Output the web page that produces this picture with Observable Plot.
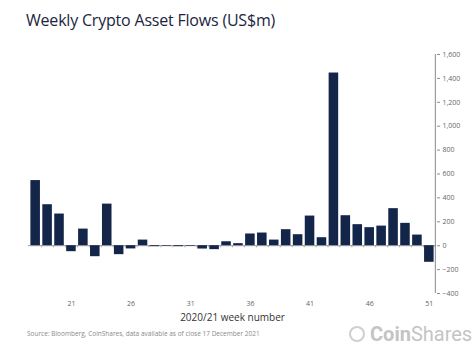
<!DOCTYPE html>
<html>
<head>
<meta charset="utf-8">
<script src="https://cdn.jsdelivr.net/npm/d3@7"></script>
<script src="https://cdn.jsdelivr.net/npm/@observablehq/plot@0.6"></script>
<style>
  html, body { margin: 0; padding: 0; background: #ffffff; }
  #wrap { position: relative; width: 474px; height: 354px; overflow: hidden; font-family: "Open Sans", sans-serif; }
  #title { position: absolute; left: 26px; top: 9px; font-size: 16px; color: #1b2540; white-space: nowrap; letter-spacing: -0.2px; }
  #chart { position: absolute; left: 0; top: 40px; }
  #source { position: absolute; left: 27px; top: 329px; font-size: 6.5px; color: #8a8a8a; white-space: nowrap; }
  #logo { position: absolute; left: 349px; top: 322px; font-family: Roboto, sans-serif; font-size: 20px; line-height: 24px; color: #c4c4c4; white-space: nowrap; }
  #logo .icon { display: inline-block; width: 16px; height: 16px; border: 2px solid #cfcfcf; border-radius: 50%; box-sizing: border-box; margin-right: 5px; vertical-align: -1px; }
  #logo b { font-weight: 700; }
</style>
</head>
<body>
<div id="wrap">
  <div id="title">Weekly Crypto Asset Flows (US$m)</div>
  <div id="chart"></div>
  <div id="source">Source: Bloomberg, CoinShares, data available as of close 17 December 2021</div>
  <div id="logo"><span class="icon"></span><b>Coin</b>Shares</div>
</div>
<script>
const weeks = [18, 19, 20, 21, 22, 23, 24, 25, 26, 27, 28, 29, 30, 31, 32, 33, 34,
               35, 36, 37, 38, 39, 40, 41, 42, 43, 44, 45, 46, 47, 48, 49, 50, 51];
const flows = [545, 343, 265, -50, 139, -92, 348, -75, -27, 47, -8, -5, -8, -5, -28, -33, 33,
               17, 98, 106, 47, 134, 92, 248, 67, 1445, 251, 176, 151, 164, 310, 187, 89, -139];
const xTickLabels = [21, 26, 31, 36, 41, 46, 51];
const yTicks = [-400, -200, 0, 200, 400, 600, 800, 1000, 1200, 1400, 1600];

const data = weeks.map((w, i) => ({week: w, flow: flows[i]}));

const chart = Plot.plot({
  width: 474,
  height: 290,
  marginTop: 14,
  marginBottom: 37,
  marginLeft: 28,
  marginRight: 38,
  style: {fontFamily: "Open Sans, sans-serif", background: "transparent"},
  x: {type: "band", domain: weeks, padding: 0.2, axis: null},
  y: {domain: [-400, 1600], axis: null},
  marks: [
    Plot.ruleY([0], {stroke: "#9a9a9a", strokeWidth: 1}),
    Plot.ruleX(weeks, {x: d => d, dx: 6, y1: 0, y2: -18, stroke: "#9a9a9a", strokeWidth: 0.8}),
    Plot.barY(data, {x: "week", y: "flow", fill: "#14254a"}),
    Plot.ruleX([51], {dx: 6, y1: -400, y2: 1600, stroke: "#8a8a8a", strokeWidth: 1}),
    Plot.axisY({
      anchor: "right",
      label: null,
      ticks: yTicks,
      tickFormat: d3.format(","),
      tickSize: 3,
      tickPadding: 3,
      fontSize: 7,
      color: "#666666",
      stroke: "#8a8a8a"
    }),
    Plot.axisX({
      anchor: "bottom",
      ticks: xTickLabels,
      tickSize: 0,
      tickPadding: 8,
      fontSize: 7,
      color: "#666666",
      label: null
    }),
    Plot.text(["2020/21 week number"], {
      frameAnchor: "bottom",
      lineAnchor: "middle",
      dy: 24,
      text: d => d,
      fontSize: 10,
      fill: "#333333"
    })
  ]
});
document.getElementById("chart").appendChild(chart);
</script>
</body>
</html>
